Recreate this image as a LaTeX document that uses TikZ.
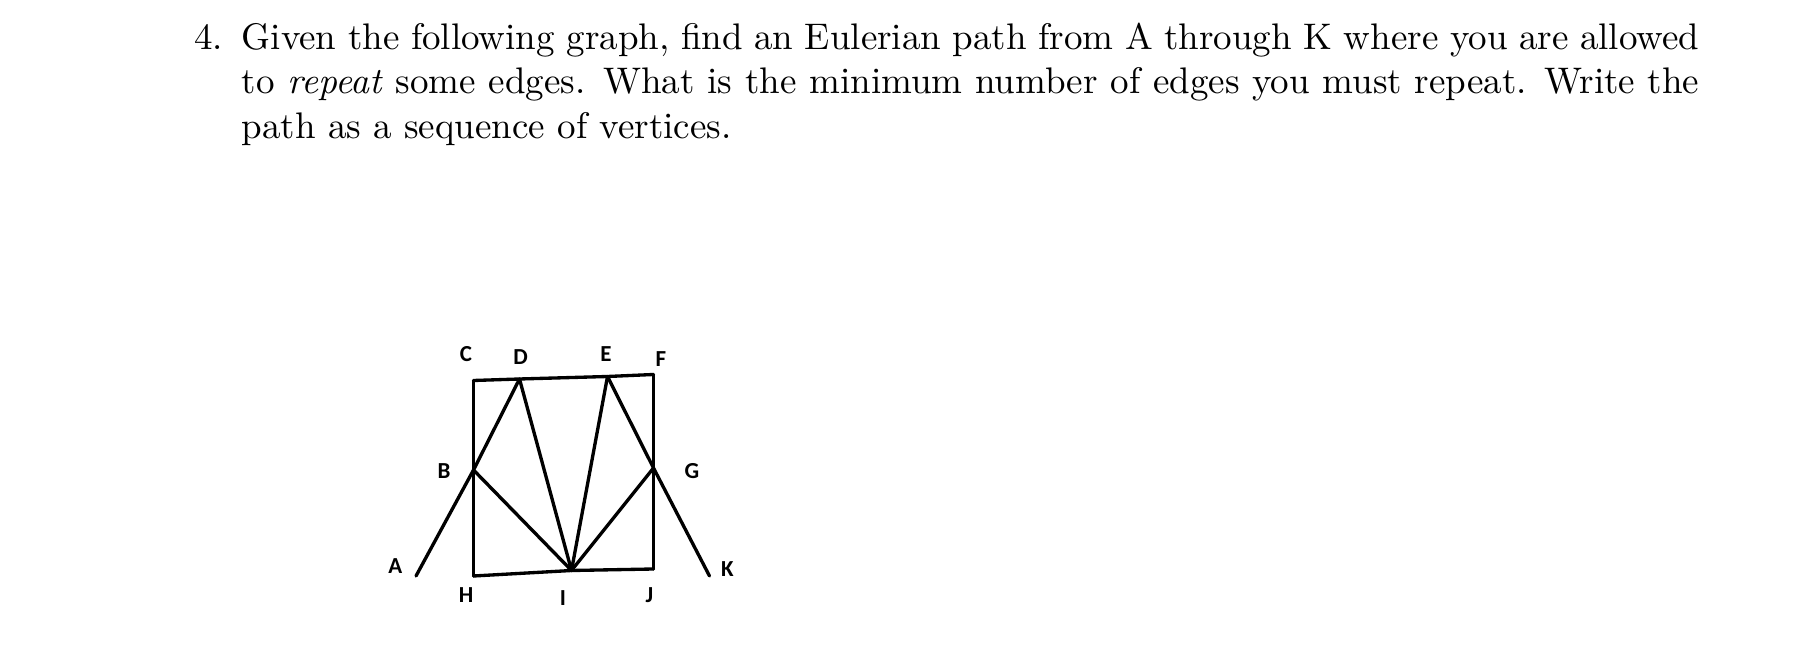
\documentclass[tikz,border=0pt]{standalone}
\usepackage{fontspec}
\usepackage{tikz}
\newfontfamily\lblfont{Carlito}
\usetikzlibrary{positioning}

\begin{document}
\begin{tikzpicture}[x=0.2703pt,y=-0.2703pt,
		edge/.style={line width=0.9pt,line cap=round,line join=round},
		lbl/.style={font=\lblfont\bfseries\fontsize{6.2}{7}\selectfont,inner sep=0pt,text height=3.9pt,text depth=0pt}]
		\useasboundingbox (0,0) rectangle (1799,653);
		% question text
		\node[anchor=base west,inner sep=0pt,text width=394pt,align=justify] (question) at (241,49.3)
		{\fontsize{10}{12}\selectfont\noindent\llap{4.\hspace{5pt}}Given the following graph, find an Eulerian path from A through K where you are allowed to \emph{repeat} some edges. What is the minimum number of edges you must repeat. Write the path as a sequence of vertices.};
		% vertices
		\coordinate (C) at (473.5,380.5);
		\coordinate (D) at (519.5,379);
		\coordinate (E) at (607.5,376.5);
		\coordinate (F) at (653.5,374.5);
		\coordinate (B) at (473.5,470);
		\coordinate (G) at (653.5,468);
		\coordinate (H) at (473.5,576);
		\coordinate (I) at (571.5,570.5);
		\coordinate (J) at (653.5,569);
		\coordinate (A) at (416,576);
		\coordinate (K) at (709.5,576);
		% edges
		\draw[edge] (C)--(D)--(E)--(F);
		\draw[edge] (C)--(B)--(H);
		\draw[edge] (F)--(G)--(J);
		\draw[edge] (H)--(I)--(J);
		\draw[edge] (A)--(B)--(D);
		\draw[edge] (K)--(G)--(E);
		\draw[edge] (D)--(I)--(E);
		\draw[edge] (B)--(I)--(G);
		% labels
		\node[lbl] (lA) at (395.3,566.2) {A};
		\node[lbl] (lB) at (444,471.5) {B};
		\node[lbl] (lC) at (466,354.2) {C};
		\node[lbl] (lD) at (520.5,357) {D};
		\node[lbl] (lE) at (606,354) {E};
		\node[lbl] (lF) at (661,359) {F};
		\node[lbl] (lG) at (692,471.5) {G};
		\node[lbl] (lH) at (466,595.5) {H};
		\node[lbl] (lI) at (563,598) {I};
		\node[lbl] (lJ) at (649.5,595) {J};
		\node[lbl] (lK) at (727.5,569) {K};
	\end{tikzpicture}
\end{document}
